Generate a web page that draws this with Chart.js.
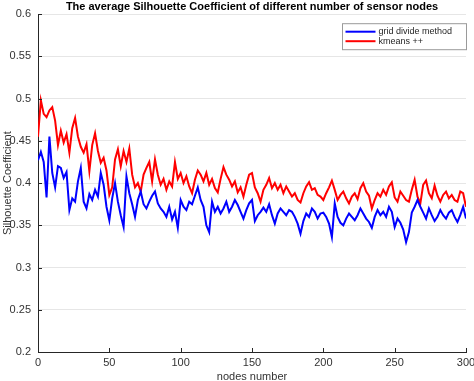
<!DOCTYPE html>
<html>
<head>
<meta charset="utf-8">
<script src="https://cdn.jsdelivr.net/npm/chart.js@4.4.1/dist/chart.umd.min.js"></script>
<style>
html,body{margin:0;padding:0;background:#fff;}
#wrap{position:relative;width:474px;height:381px;}
</style>
</head>
<body>
<div id="wrap"><canvas id="c" width="474" height="381"></canvas></div>
<script>
const chartTitle = "The average Silhouette Coefficient of different number of sensor nodes";
const xTitle = "nodes number";
const yTitle = "Silhouette Coefficient";
const seriesNames = ["grid divide method", "kmeans ++"];
const xTicks = [0, 50, 100, 150, 200, 250, 300];
const yTicks = [0.2, 0.25, 0.3, 0.35, 0.4, 0.45, 0.5, 0.55, 0.6];

const nodes = [0,2,4,6,8,10,12,14,16,18,20,22,24,26,28,30,32,34,36,38,40,42,44,46,48,50,52,54,56,58,60,62,64,66,68,70,72,74,76,78,80,82,84,86,88,90,92,94,96,98,100,102,104,106,108,110,112,114,116,118,120,122,124,126,128,130,132,134,136,138,140,142,144,146,148,150,152,154,156,158,160,162,164,166,168,170,172,174,176,178,180,182,184,186,188,190,192,194,196,198,200,202,204,206,208,210,212,214,216,218,220,222,224,226,228,230,232,234,236,238,240,242,244,246,248,250,252,254,256,258,260,262,264,266,268,270,272,274,276,278,280,282,284,286,288,290,292,294,296,298,300];

const gridDivide = [0.427,0.437,0.425,0.383,0.455,0.412,0.395,0.420,0.418,0.406,0.413,0.368,0.382,0.378,0.402,0.418,0.378,0.370,0.387,0.380,0.392,0.384,0.412,0.398,0.372,0.356,0.382,0.400,0.378,0.362,0.348,0.408,0.388,0.375,0.360,0.380,0.390,0.375,0.370,0.378,0.385,0.390,0.376,0.370,0.366,0.360,0.372,0.357,0.366,0.347,0.380,0.372,0.368,0.378,0.375,0.385,0.395,0.380,0.372,0.350,0.342,0.378,0.366,0.372,0.364,0.370,0.378,0.366,0.372,0.380,0.374,0.366,0.358,0.368,0.376,0.380,0.355,0.362,0.366,0.371,0.366,0.375,0.362,0.352,0.364,0.370,0.366,0.362,0.368,0.366,0.360,0.352,0.340,0.355,0.364,0.360,0.370,0.366,0.358,0.364,0.365,0.360,0.352,0.336,0.376,0.360,0.353,0.350,0.358,0.364,0.360,0.356,0.362,0.370,0.364,0.358,0.354,0.347,0.360,0.368,0.362,0.366,0.360,0.372,0.366,0.348,0.358,0.353,0.345,0.330,0.342,0.365,0.372,0.380,0.372,0.365,0.358,0.370,0.362,0.355,0.360,0.368,0.362,0.358,0.365,0.368,0.360,0.354,0.362,0.372,0.358];

const kmeansPP = [0.455,0.498,0.482,0.478,0.486,0.490,0.474,0.445,0.462,0.448,0.458,0.436,0.465,0.477,0.455,0.443,0.436,0.446,0.414,0.445,0.459,0.438,0.424,0.430,0.415,0.386,0.395,0.428,0.440,0.420,0.438,0.425,0.441,0.410,0.395,0.400,0.390,0.410,0.418,0.425,0.402,0.428,0.410,0.398,0.405,0.392,0.402,0.396,0.425,0.405,0.412,0.400,0.408,0.396,0.388,0.404,0.415,0.410,0.402,0.412,0.398,0.405,0.394,0.389,0.405,0.419,0.410,0.404,0.396,0.402,0.389,0.395,0.384,0.398,0.410,0.412,0.395,0.388,0.378,0.392,0.398,0.406,0.394,0.400,0.392,0.398,0.388,0.396,0.390,0.384,0.388,0.380,0.377,0.388,0.396,0.401,0.392,0.394,0.386,0.384,0.380,0.388,0.395,0.403,0.392,0.380,0.386,0.390,0.382,0.376,0.384,0.388,0.381,0.394,0.400,0.390,0.385,0.370,0.380,0.388,0.384,0.392,0.386,0.396,0.401,0.383,0.378,0.390,0.385,0.380,0.378,0.392,0.404,0.384,0.376,0.398,0.403,0.388,0.382,0.397,0.385,0.378,0.386,0.390,0.382,0.386,0.380,0.378,0.390,0.388,0.372];

const colors = ["#0000ff", "#ff0000"];
const axisColor = "#262626";
const FONT = "'Liberation Sans', Arial, Helvetica, sans-serif";

function pairs(xs, ys){ return xs.map((x,i)=>({x:x, y:ys[i]})); }

const insideTicks = {
  id: 'insideTicks',
  afterDatasetsDraw(chart){
    const ctx = chart.ctx, a = chart.chartArea;
    const xs = chart.scales.x, ys = chart.scales.y;
    ctx.save();
    ctx.strokeStyle = axisColor; ctx.lineWidth = 1;
    ctx.beginPath();
    yTicks.forEach(v=>{ const p = Math.round(ys.getPixelForValue(v))+0.5; ctx.moveTo(a.left, p); ctx.lineTo(a.left+4, p); });
    xTicks.forEach(v=>{ const p = Math.round(xs.getPixelForValue(v))+0.5; ctx.moveTo(p, a.bottom); ctx.lineTo(p, a.bottom-4); });
    ctx.stroke();
    ctx.restore();
  }
};

const boxLegend = {
  id: 'boxLegend',
  afterDraw(chart){
    const ctx = chart.ctx, a = chart.chartArea;
    const w = 124, h = 26;
    const x0 = a.right - w + 0.5, y0 = a.top + 9.5;
    ctx.save();
    ctx.fillStyle = '#ffffff';
    ctx.fillRect(x0, y0, w, h);
    ctx.strokeStyle = '#9a9a9a'; ctx.lineWidth = 1;
    ctx.strokeRect(x0, y0, w, h);
    ctx.font = "9px " + FONT;
    ctx.textBaseline = 'middle';
    seriesNames.forEach((name, i)=>{
      const yy = y0 + 8 + i*9.5;
      ctx.strokeStyle = colors[i]; ctx.lineWidth = 2;
      ctx.beginPath(); ctx.moveTo(x0+3, yy); ctx.lineTo(x0+33, yy); ctx.stroke();
      ctx.fillStyle = axisColor;
      ctx.fillText(name, x0+36, yy);
    });
    ctx.restore();
  }
};

new Chart(document.getElementById('c'), {
  type: 'line',
  data: {
    datasets: [
      { label: seriesNames[0], data: pairs(nodes, gridDivide), borderColor: colors[0], backgroundColor: colors[0], borderWidth: 2, pointRadius: 0, tension: 0 },
      { label: seriesNames[1], data: pairs(nodes, kmeansPP), borderColor: colors[1], backgroundColor: colors[1], borderWidth: 2, pointRadius: 0, tension: 0 }
    ]
  },
  options: {
    responsive: false,
    animation: false,
    layout: { padding: { left: 0, right: 8, top: 0, bottom: 0 } },
    plugins: {
      legend: { display: false },
      tooltip: { enabled: false },
      title: {
        display: true, text: chartTitle, fullSize: false, color: '#000',
        font: { family: FONT, size: 11, weight: 'bold', lineHeight: 1.2 },
        padding: { top: 0, bottom: 1 }
      }
    },
    scales: {
      x: {
        type: 'linear', min: 0, max: 300,
        afterBuildTicks: s => { s.ticks = xTicks.map(v=>({value:v})); },
        afterFit: s => { s.height = 29; s.paddingLeft = 0; s.paddingRight = 0; },
        grid: { display: false, drawTicks: false },
        border: { display: true, color: axisColor, width: 1 },
        ticks: { color: '#333', font: { family: FONT, size: 11 }, padding: 4, maxRotation: 0 },
        title: { display: true, text: xTitle, color: '#333', font: { family: FONT, size: 11, lineHeight: 1 }, padding: { top: 0, bottom: -1 } }
      },
      y: {
        type: 'linear', min: 0.2, max: 0.6,
        afterBuildTicks: s => { s.ticks = yTicks.map(v=>({value:v})); },
        afterFit: s => { s.width = 38; },
        grid: { display: true, color: '#e6e6e6', lineWidth: 1, drawTicks: false },
        border: { display: true, color: axisColor, width: 1 },
        ticks: { color: '#333', font: { family: FONT, size: 11 }, padding: 7, callback: v => String(Math.round(v*100)/100) },
        title: { display: true, text: yTitle, color: '#333', font: { family: FONT, size: 11, lineHeight: 1 }, padding: { top: 2, bottom: 0 } }
      }
    }
  },
  plugins: [insideTicks, boxLegend]
});
</script>
</body>
</html>
